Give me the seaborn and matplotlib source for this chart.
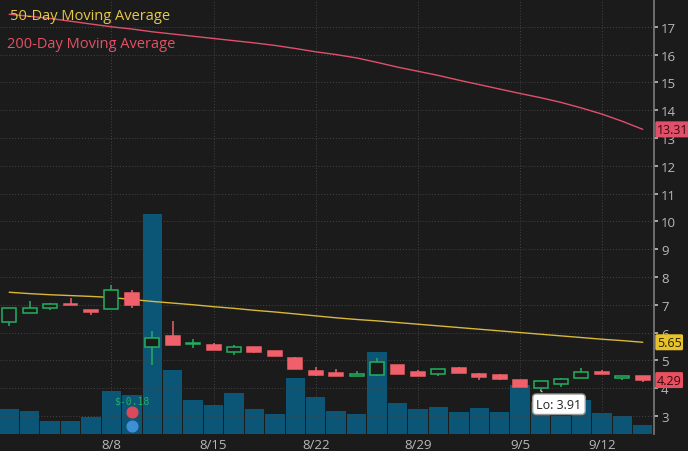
import numpy as np
import pandas as pd
import matplotlib
matplotlib.use("Agg")
import matplotlib.pyplot as plt
import seaborn as sns
from matplotlib.patches import Rectangle

opens  = [6.39,6.72,6.89,7.04,6.82,6.84,7.44,5.49,5.86,5.57,5.56,5.31,5.48,5.33,5.08,4.63,4.54,4.42,4.47,4.83,4.58,4.50,4.72,4.52,4.47,4.29,4.02,4.16,4.35,4.59,4.36,4.44]
closes = [6.87,6.90,7.03,6.98,6.75,7.53,7.00,5.82,5.55,5.62,5.37,5.48,5.31,5.16,4.68,4.47,4.42,4.50,4.93,4.52,4.45,4.69,4.53,4.39,4.33,4.05,4.26,4.33,4.59,4.52,4.45,4.29]
highs  = [6.87,7.12,7.05,7.26,6.82,7.70,7.53,6.04,6.40,5.76,5.62,5.55,5.48,5.33,5.12,4.75,4.68,4.63,5.09,4.85,4.66,4.70,4.75,4.54,4.50,4.29,4.26,4.38,4.71,4.66,4.45,4.44]
lows   = [6.22,6.72,6.80,6.98,6.63,6.84,6.87,4.83,5.55,5.43,5.37,5.19,5.26,5.16,4.68,4.44,4.42,4.42,4.42,4.50,4.45,4.42,4.53,4.28,4.28,4.05,3.91,4.05,4.35,4.50,4.29,4.21]
volume = [250,230,130,130,170,430,390,2200,640,340,290,410,250,200,560,370,230,200,820,310,250,270,220,260,220,490,320,180,340,210,180,90]
ma50   = [7.45,7.40,7.36,7.33,7.30,7.26,7.19,7.12,7.06,7.00,6.93,6.87,6.80,6.74,6.67,6.60,6.53,6.47,6.42,6.36,6.30,6.24,6.18,6.12,6.06,6.00,5.94,5.88,5.82,5.76,5.71,5.65]
ma200  = [17.45,17.38,17.30,17.20,17.10,17.00,16.92,16.82,16.74,16.66,16.58,16.50,16.42,16.33,16.22,16.10,16.00,15.88,15.72,15.55,15.40,15.25,15.08,14.92,14.76,14.60,14.45,14.28,14.08,13.86,13.60,13.31]
date_pos = [5,10,15,20,25,29]
date_labels = ["8/8","8/15","8/22","8/29","9/5","9/12"]

BG = "#1b1b1b"
sns.set_theme(style="dark")
plt.rcParams['font.family'] = ['Open Sans', 'DejaVu Sans']

idx = np.arange(len(opens))
df = pd.DataFrame(dict(i=idx, o=opens, c=closes, h=highs, l=lows, v=volume, m50=ma50, m200=ma200))

fig = plt.figure(figsize=(6.88, 4.52), dpi=100, facecolor=BG)
ax = fig.add_axes([0, 1-435/452, 654/688, 435/452])
ax.set_facecolor(BG)
sns.barplot(data=df, x="i", y="v", native_scale=True, width=0.95, color="#0b5676",
            saturation=1, ax=ax, linewidth=0)
ax.set_ylim(0, 4350)
ax.set_yticks([])
ax.set_xlim(-0.45, 31.55)
ax.set_xticks(date_pos)
ax.set_xticklabels(date_labels, color="#b8b8b8", fontsize=9.5)
ax.tick_params(axis="x", length=0, pad=3)
ax.set_xlabel(""); ax.set_ylabel("")
ax.grid(axis="x", color="#444444", linestyle=(0, (1, 2)), linewidth=0.7)

ax2 = ax.twinx()
ax2.set_ylim(2.35, 18)
ax2.set_yticks(range(3, 18))
ax2.tick_params(axis="y", colors="#b8b8b8", labelsize=9.5, length=3, pad=2)
ax2.grid(axis="y", color="#444444", linestyle=(0, (1, 2)), linewidth=0.7)
for s in ["top", "left", "bottom"]:
    ax.spines[s].set_visible(False); ax2.spines[s].set_visible(False)
ax.spines["right"].set_visible(False)
ax2.spines["right"].set_color("#777777")

sns.lineplot(data=df, x="i", y="m50", color="#d9b73a", linewidth=1.0, ax=ax2)
sns.lineplot(data=df, x="i", y="m200", color="#e0506a", linewidth=1.0, ax=ax2)
ax2.set_xlabel(""); ax2.set_ylabel("")

G, R = "#22b060", "#f0606a"
w = 0.68
for i, o, c, h, l in zip(idx, opens, closes, highs, lows):
    up = c >= o
    col = G if up else R
    lo_b, hi_b = min(o, c), max(o, c)
    ax2.vlines(i, l, lo_b, color=col, linewidth=1.1, zorder=3)
    ax2.vlines(i, hi_b, h, color=col, linewidth=1.1, zorder=3)
    ax2.add_patch(Rectangle((i - w/2, lo_b), w, max(hi_b - lo_b, 0.02),
                            facecolor=BG if up else R, edgecolor=col, linewidth=1.1, zorder=4))

fig.text(10/688, 1-17/452, "50-Day Moving Average", color="#e6c84a", fontsize=10.5, va="center")
fig.text(7/688, 1-45/452, "200-Day Moving Average", color="#e65064", fontsize=10.5, va="center")

def tag(y, txt, fc, tc):
    ax2.annotate(txt, xy=(1.0, y), xycoords=("axes fraction", "data"), xytext=(2, 0),
                 textcoords="offset points", va="center", ha="left", fontsize=9, color=tc,
                 bbox=dict(boxstyle="round,pad=0.12", fc=fc, ec="none"), annotation_clip=False,
                 zorder=10)
tag(13.31, "13.31", "#e0506a", "#3a0a10")
tag(5.65, "5.65", "#e8c22c", "#2a2200")
tag(4.29, "4.29", "#e8505f", "#3a0a10")

ax2.annotate("Lo: 3.91", xy=(26, 3.91), xytext=(26.9, 3.42), fontsize=9, color="#222222",
             ha="center", va="center",
             bbox=dict(boxstyle="round,pad=0.3", fc="white", ec="#999999"),
             arrowprops=dict(arrowstyle="-", color="#cccccc", lw=0.8))
ax2.text(6, 3.55, "$-0.18", color="#22b060", fontsize=7, family="DejaVu Sans Mono", ha="center", va="center")
ax2.scatter([6], [3.14], s=60, color="#d94a5a", zorder=5)
ax2.scatter([6], [2.62], s=60, color="#3d8fd6", zorder=5)

fig.savefig("out.png", dpi=100, facecolor=BG)
